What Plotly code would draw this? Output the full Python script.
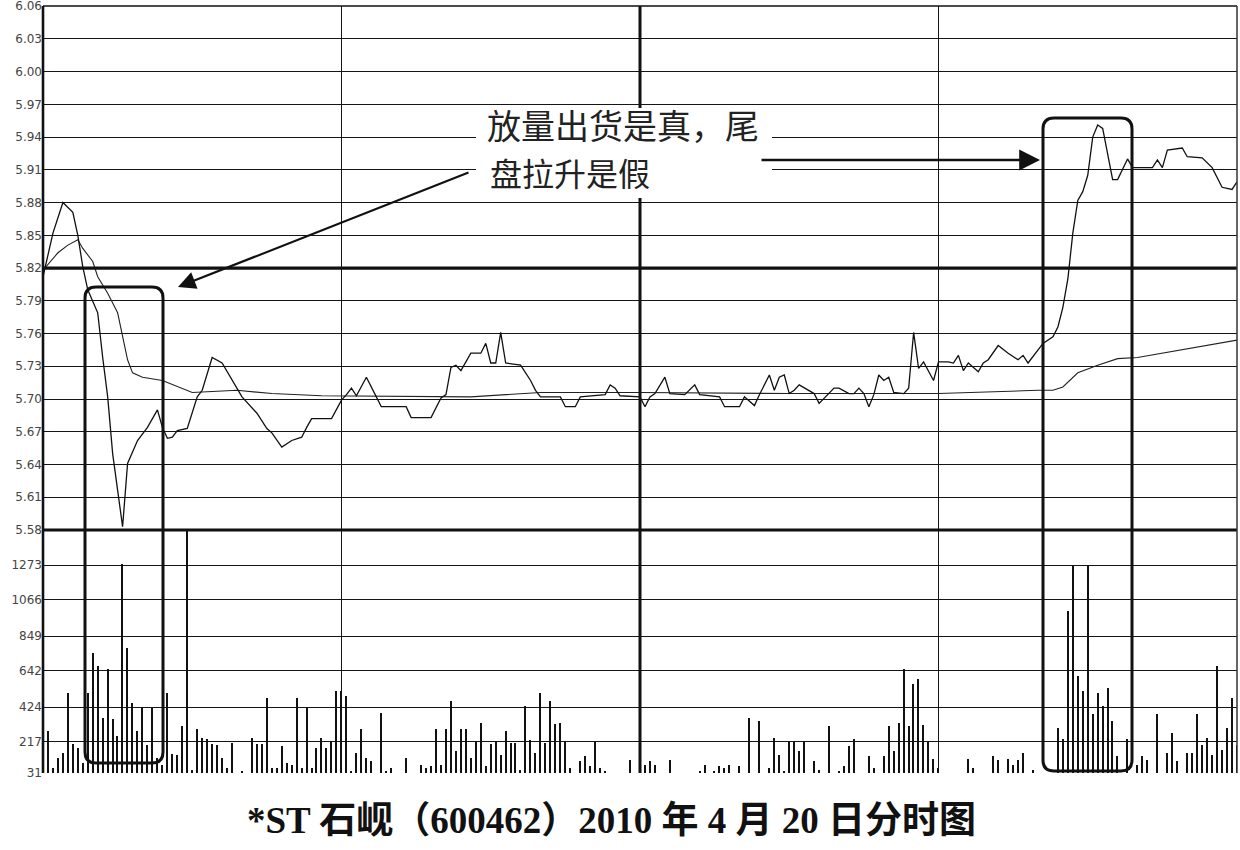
import plotly.graph_objects as go
from plotly.subplots import make_subplots

# ---------------- data ----------------
PREV_CLOSE = 5.82
price_ticks = [6.06, 6.03, 6.00, 5.97, 5.94, 5.91, 5.88, 5.85, 5.82, 5.79,
               5.76, 5.73, 5.70, 5.67, 5.64, 5.61, 5.58]
vol_ticks = [31, 217, 424, 642, 849, 1066, 1273]
vol_ticktext = ["31", "217", "424", "642", "849", "1066", "1273"]

price_minute = [0, 2, 4, 6, 7, 8, 9, 11, 12, 13, 14, 16, 17, 19, 21, 23, 24, 25, 26, 27,
                29, 31, 32, 34, 36, 38, 40, 43, 45, 46, 48, 50, 52, 53, 54, 58, 59, 60, 61, 62,
                63, 65, 67, 68, 73, 74, 78, 80, 81, 82, 83, 84, 86, 88, 89, 90, 91, 92, 93, 96,
                98, 99, 100, 104, 105, 107, 108, 113, 114, 115, 116, 120, 121, 122, 123, 125, 126, 129, 131, 132,
                136, 137, 140, 141, 143, 144, 146, 147, 148, 149, 150, 151, 152, 154, 155, 156, 158, 159, 160, 162,
                163, 164, 165, 166, 167, 168, 169, 170, 171, 173, 174, 175, 176, 177, 179, 180, 182, 183, 184, 185,
                186, 188, 189, 190, 192, 194, 196, 197, 198, 201, 203, 204, 205, 206, 207, 208, 209, 210, 211, 212,
                213, 214, 215, 216, 217, 218, 219, 223, 224, 225, 226, 229, 230, 233, 235, 237, 239, 240]
price_value = [5.812, 5.852, 5.880, 5.871, 5.850, 5.821, 5.800, 5.779, 5.738, 5.702, 5.650, 5.583, 5.641, 5.662, 5.674, 5.690, 5.674, 5.664, 5.665, 5.671,
               5.673, 5.702, 5.708, 5.738, 5.733, 5.717, 5.702, 5.687, 5.673, 5.669, 5.656, 5.662, 5.665, 5.674, 5.682, 5.682, 5.690, 5.699, 5.704, 5.710,
               5.703, 5.720, 5.702, 5.693, 5.693, 5.683, 5.683, 5.701, 5.704, 5.729, 5.731, 5.726, 5.742, 5.742, 5.751, 5.733, 5.733, 5.761, 5.733, 5.731,
               5.717, 5.708, 5.702, 5.702, 5.693, 5.693, 5.702, 5.704, 5.713, 5.710, 5.703, 5.702, 5.693, 5.702, 5.705, 5.720, 5.705, 5.704, 5.713, 5.704,
               5.702, 5.693, 5.693, 5.702, 5.694, 5.704, 5.722, 5.708, 5.720, 5.722, 5.705, 5.708, 5.713, 5.708, 5.705, 5.696, 5.705, 5.710, 5.710, 5.705,
               5.705, 5.710, 5.705, 5.693, 5.704, 5.722, 5.717, 5.720, 5.706, 5.705, 5.710, 5.761, 5.728, 5.734, 5.717, 5.734, 5.734, 5.733, 5.740, 5.726,
               5.733, 5.725, 5.733, 5.736, 5.749, 5.742, 5.736, 5.740, 5.733, 5.751, 5.757, 5.766, 5.784, 5.810, 5.852, 5.882, 5.890, 5.905, 5.940, 5.951,
               5.948, 5.925, 5.901, 5.901, 5.910, 5.920, 5.912, 5.912, 5.919, 5.912, 5.928, 5.930, 5.922, 5.921, 5.912, 5.894, 5.892, 5.899]

avg_minute = [0, 3, 5, 7, 8, 10, 11, 13, 15, 16, 17, 18, 20, 24, 30, 39, 46, 56, 86, 100,
              120, 150, 180, 200, 203, 205, 208, 212, 216, 220, 225, 232, 239, 240]
avg_value = [5.818, 5.834, 5.841, 5.846, 5.838, 5.826, 5.812, 5.797, 5.779, 5.757, 5.736, 5.724, 5.720, 5.717, 5.706, 5.708, 5.705, 5.703, 5.702, 5.706,
             5.706, 5.705, 5.705, 5.708, 5.708, 5.711, 5.724, 5.731, 5.737, 5.738, 5.742, 5.747, 5.753, 5.754]

volume = [630, 283, 60, 120, 150, 510, 205, 180, 90, 510,
          750, 670, 360, 655, 355, 250, 1280, 780, 450, 280,
          425, 200, 420, 120, 80, 510, 145, 140, 310, 1490,
          50, 295, 240, 235, 205, 200, 120, 60, 210, 30,
          45, 20, 240, 205, 205, 480, 60, 60, 190, 90,
          80, 480, 60, 420, 60, 180, 240, 180, 220, 520,
          520, 490, 40, 150, 295, 120, 100, 20, 390, 40,
          60, 0, 0, 120, 0, 0, 80, 60, 70, 295,
          80, 295, 460, 160, 295, 295, 120, 220, 330, 70,
          205, 220, 140, 283, 210, 210, 50, 430, 230, 150,
          510, 210, 460, 325, 330, 220, 60, 0, 100, 130,
          70, 220, 60, 40, 0, 0, 0, 0, 110, 30,
          130, 80, 100, 80, 0, 0, 110, 0, 0, 0,
          0, 0, 40, 80, 0, 40, 70, 60, 80, 0,
          70, 0, 360, 0, 340, 0, 60, 240, 140, 40,
          220, 220, 160, 220, 0, 100, 50, 0, 313, 0,
          40, 70, 190, 235, 0, 0, 130, 60, 0, 130,
          313, 160, 330, 655, 313, 565, 595, 320, 220, 115,
          60, 0, 0, 0, 0, 0, 115, 60, 0, 0,
          0, 130, 110, 0, 115, 80, 110, 150, 0, 50,
          0, 0, 0, 0, 300, 235, 1000, 1275, 610, 520,
          1275, 385, 510, 430, 540, 343, 130, 0, 235, 0,
          80, 130, 110, 0, 385, 0, 150, 270, 100, 0,
          150, 150, 385, 200, 240, 140, 670, 170, 300, 480,
          200]
minutes = list(range(len(volume)))

title_text = "*ST 石岘（600462）2010 年 4 月 20 日分时图"
note_line1 = "放量出货是真，尾"
note_line2 = "盘拉升是假"

# ---------------- layout geometry ----------------
W, H = 1240, 850
ML, MR, MT, MB = 43, 3, 6, 77
PW, PH = W - ML - MR, H - MT - MB


def px(x):
    return (x - ML) / PW


def py(y):
    return 1 - (y - MT) / PH


split = py(530)

fig = make_subplots(rows=2, cols=1, shared_xaxes=True, vertical_spacing=0,
                    row_heights=[1 - split, split])

fig.add_trace(go.Scatter(x=avg_minute, y=avg_value, mode="lines",
                         line=dict(color="#222", width=1.1), showlegend=False), row=1, col=1)
fig.add_trace(go.Scatter(x=price_minute, y=price_value, mode="lines",
                         line=dict(color="#111", width=1.3), showlegend=False), row=1, col=1)
fig.add_trace(go.Bar(x=minutes, y=volume, width=0.26, marker=dict(color="#111", line=dict(width=0)),
                     showlegend=False), row=2, col=1)

grid = dict(showgrid=True, gridcolor="#151515", gridwidth=1.3, zeroline=False, showline=False,
            automargin=False)

fig.update_xaxes(range=[0, 240], tickvals=[60, 120, 180], showticklabels=False, ticks="", **grid)
fig.update_yaxes(range=[5.58, 6.0601], tickvals=price_ticks, tickformat=".2f", ticks="",
                 ticklabeloverflow="allow",
                 tickfont=dict(family="DejaVu Sans", size=12, color="#444"), **grid, row=1, col=1)
fig.update_yaxes(range=[31, 1483], tickvals=vol_ticks, ticktext=vol_ticktext, ticks="",
                 ticklabeloverflow="allow",
                 tickfont=dict(family="DejaVu Sans", size=12, color="#444"), **grid, row=2, col=1)

fig.update_layout(xaxis=dict(domain=[0, 1]), yaxis=dict(domain=[split, 1]),
                  yaxis2=dict(domain=[0, split]))

shapes = []
# thick reference lines
shapes.append(dict(type="line", xref="paper", yref="y", x0=0, x1=1, y0=PREV_CLOSE, y1=PREV_CLOSE,
                   line=dict(color="#111", width=3.2)))
shapes.append(dict(type="line", xref="paper", yref="paper", x0=0, x1=1, y0=split, y1=split,
                   line=dict(color="#111", width=3.2)))
shapes.append(dict(type="line", xref="x", yref="paper", x0=120, x1=120, y0=0, y1=1,
                   line=dict(color="#111", width=3)))
# borders
shapes.append(dict(type="line", xref="paper", yref="paper", x0=0, x1=0, y0=0, y1=1,
                   line=dict(color="#111", width=2.6)))
shapes.append(dict(type="line", xref="paper", yref="paper", x0=0, x1=1, y0=1, y1=1,
                   line=dict(color="#111", width=1.5)))
shapes.append(dict(type="line", xref="paper", yref="paper", x0=1, x1=1, y0=0, y1=1,
                   line=dict(color="#333", width=1.5)))


def rounded_box(x0, y0, x1, y1, r=11):
    X0, X1 = px(x0), px(x1)
    Y0, Y1 = py(y0), py(y1)  # Y0 top, Y1 bottom
    rx, ry = r / PW, r / PH
    return (f"M {X0} {Y0 - ry} Q {X0} {Y0} {X0 + rx} {Y0} L {X1 - rx} {Y0} Q {X1} {Y0} {X1} {Y0 - ry} "
            f"L {X1} {Y1 + ry} Q {X1} {Y1} {X1 - rx} {Y1} L {X0 + rx} {Y1} Q {X0} {Y1} {X0} {Y1 + ry} Z")


for (a, b, c, d) in [(85, 287, 163, 763), (1043, 118, 1132, 771)]:
    shapes.append(dict(type="path", xref="paper", yref="paper", path=rounded_box(a, b, c, d),
                       line=dict(color="#111", width=3), layer="above"))

# white background behind the callout text
shapes.append(dict(type="rect", xref="paper", yref="paper", x0=px(476), x1=px(772), y0=py(198), y1=py(108),
                   fillcolor="white", line=dict(width=0), layer="above"))

annotations = []
annotations.append(dict(xref="paper", yref="paper", x=px(485), y=py(124), xanchor="left", yanchor="middle",
                        text=note_line1, showarrow=False,
                        font=dict(family="Noto Sans CJK SC", size=34, color="#222")))
annotations.append(dict(xref="paper", yref="paper", x=px(488), y=py(172), xanchor="left", yanchor="middle",
                        text=note_line2, showarrow=False,
                        font=dict(family="Noto Sans CJK SC", size=32, color="#222")))
# arrows
annotations.append(dict(xref="paper", yref="paper", x=px(178), y=py(287), ax=470 - 178, ay=172 - 287,
                        text="", showarrow=True, arrowhead=2, arrowsize=1.6, arrowwidth=2.2,
                        arrowcolor="#111"))
annotations.append(dict(xref="paper", yref="paper", x=px(1040), y=py(160), ax=760 - 1040, ay=0,
                        text="", showarrow=True, arrowhead=2, arrowsize=1.6, arrowwidth=2.6,
                        arrowcolor="#111"))
# caption
annotations.append(dict(xref="paper", yref="paper", x=px(611), y=py(820), xanchor="center", yanchor="middle",
                        text="<b>" + title_text + "</b>", showarrow=False,
                        font=dict(family="Liberation Serif, Noto Sans CJK SC", size=37, color="#111")))

fig.update_layout(width=W, height=H, margin=dict(l=ML, r=MR, t=MT, b=MB, autoexpand=False),
                  paper_bgcolor="white", plot_bgcolor="white", bargap=0,
                  shapes=shapes, annotations=annotations, showlegend=False)

fig.write_html("out.html", config={"displayModeBar": False},
               post_script="document.body.style.margin='0';document.body.style.padding='0';")
